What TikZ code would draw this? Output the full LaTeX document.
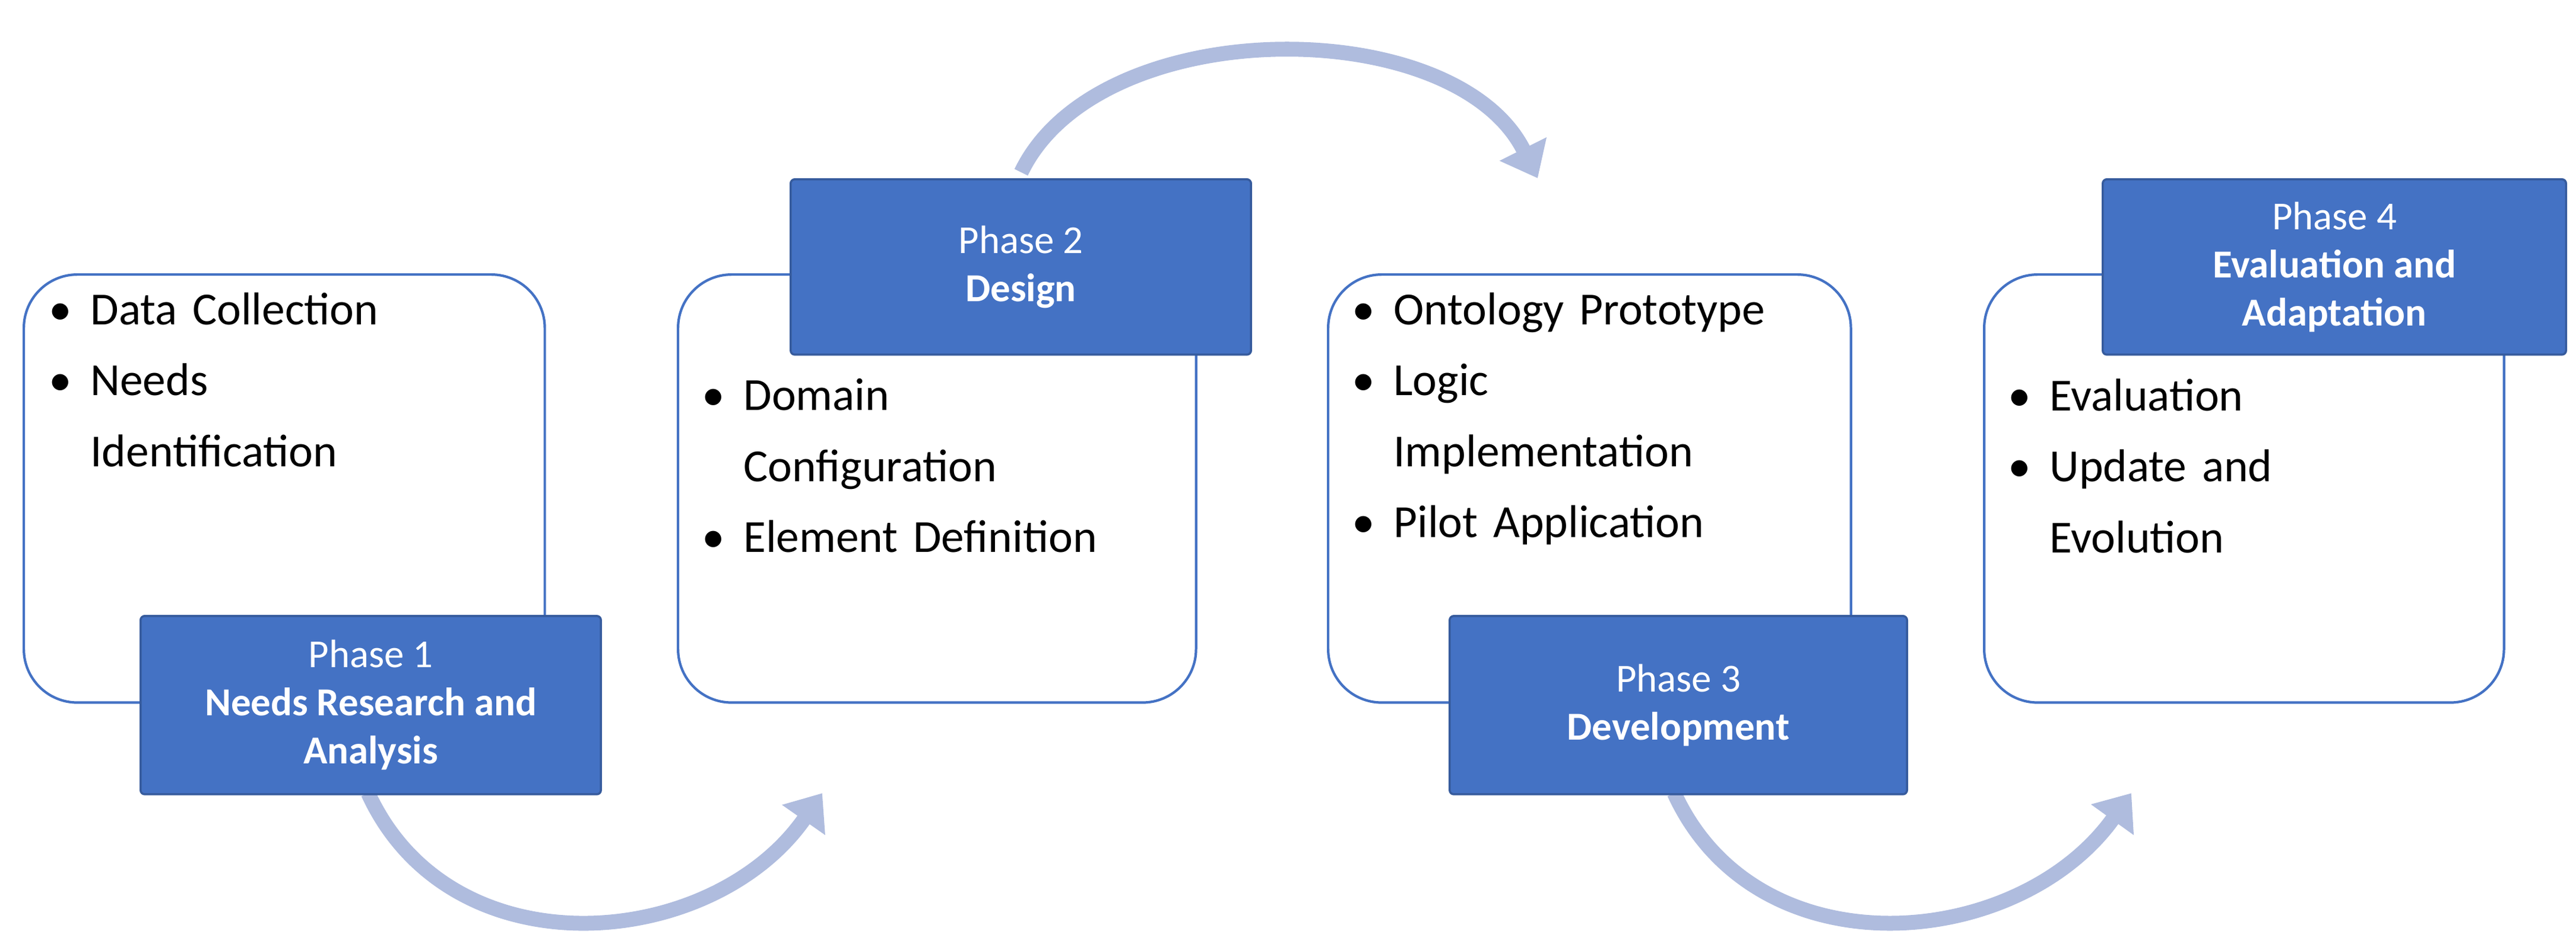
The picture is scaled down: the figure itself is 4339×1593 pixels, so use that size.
\documentclass[tikz,border=0pt]{standalone}
\usepackage{fontspec}
\setmainfont{Carlito}
\usetikzlibrary{arrows.meta}
\definecolor{pblue}{RGB}{68,114,196}
\definecolor{arr}{RGB}{175,188,222}
\begin{document}
\begin{tikzpicture}[x=0.01cm,y=-0.01cm,
 wbox/.style={draw=pblue,line width=1.2pt,rounded corners=0.9cm,fill=white},
 bbox/.style={draw=pblue!80!black,line width=1pt,fill=pblue,rounded corners=2pt,text=white,font=\fontsize{19}{23}\selectfont,align=center},
 items/.style={anchor=north west,align=left,font=\fontsize{22}{34}\selectfont,text width=7.6cm},
 carr/.style={draw=arr,line width=0.25cm,-{Triangle[length=0.55cm,width=0.85cm]}}]
\useasboundingbox (0,0) rectangle (4339,1593);
% arrows
\coordinate (a1s) at (620,1335); \coordinate (a1e) at (1385,1335);
\coordinate (a2s) at (1720,290); \coordinate (a2e) at (2590,300);
\coordinate (a3s) at (2820,1335); \coordinate (a3e) at (3590,1335);
\draw[carr] (a1s) .. controls (760,1640) and (1200,1600) .. (a1e);
\draw[carr] (a2s) .. controls (1850,20) and (2450,20) .. (a2e);
\draw[carr] (a3s) .. controls (2960,1640) and (3400,1600) .. (a3e);
% boxes
\node[wbox,minimum width=8.77cm,minimum height=7.2cm,anchor=north west] (w1) at (38,460) {};
\node[wbox,minimum width=8.72cm,minimum height=7.2cm,anchor=north west] (w2) at (1140,460) {};
\node[wbox,minimum width=8.8cm,minimum height=7.2cm,anchor=north west] (w3) at (2235,460) {};
\node[wbox,minimum width=8.75cm,minimum height=7.2cm,anchor=north west] (w4) at (3340,460) {};
\node[bbox,minimum width=7.75cm,minimum height=3cm,anchor=north west] (b1) at (235,1035) {Phase 1\\\textbf{Needs Research and}\\\textbf{Analysis}};
\node[bbox,minimum width=7.75cm,minimum height=2.95cm,anchor=north west] (b2) at (1330,300) {Phase 2\\\textbf{Design}};
\node[bbox,minimum width=7.7cm,minimum height=3cm,anchor=north west] (b3) at (2440,1035) {Phase 3\\\textbf{Development}};
\node[bbox,minimum width=7.8cm,minimum height=2.95cm,anchor=north west] (b4) at (3540,300) {Phase 4\\\textbf{Evaluation and}\\\textbf{Adaptation}};
% texts
\newcommand{\bl}{\makebox[0.7cm][l]{\textbullet}}
\node[items] (t1) at (70,480) {\bl Data Collection\\\bl Needs\\\hspace*{0.7cm}Identification};
\node[items] (t2) at (1170,625) {\bl Domain\\\hspace*{0.7cm}Configuration\\\bl Element Definition};
\node[items] (t3) at (2265,480) {\bl Ontology Prototype\\\bl Logic\\\hspace*{0.7cm}Implementation\\\bl Pilot Application};
\node[items] (t4) at (3370,625) {\bl Evaluation\\\bl Update and\\\hspace*{0.7cm}Evolution};
\end{tikzpicture}
\end{document}
